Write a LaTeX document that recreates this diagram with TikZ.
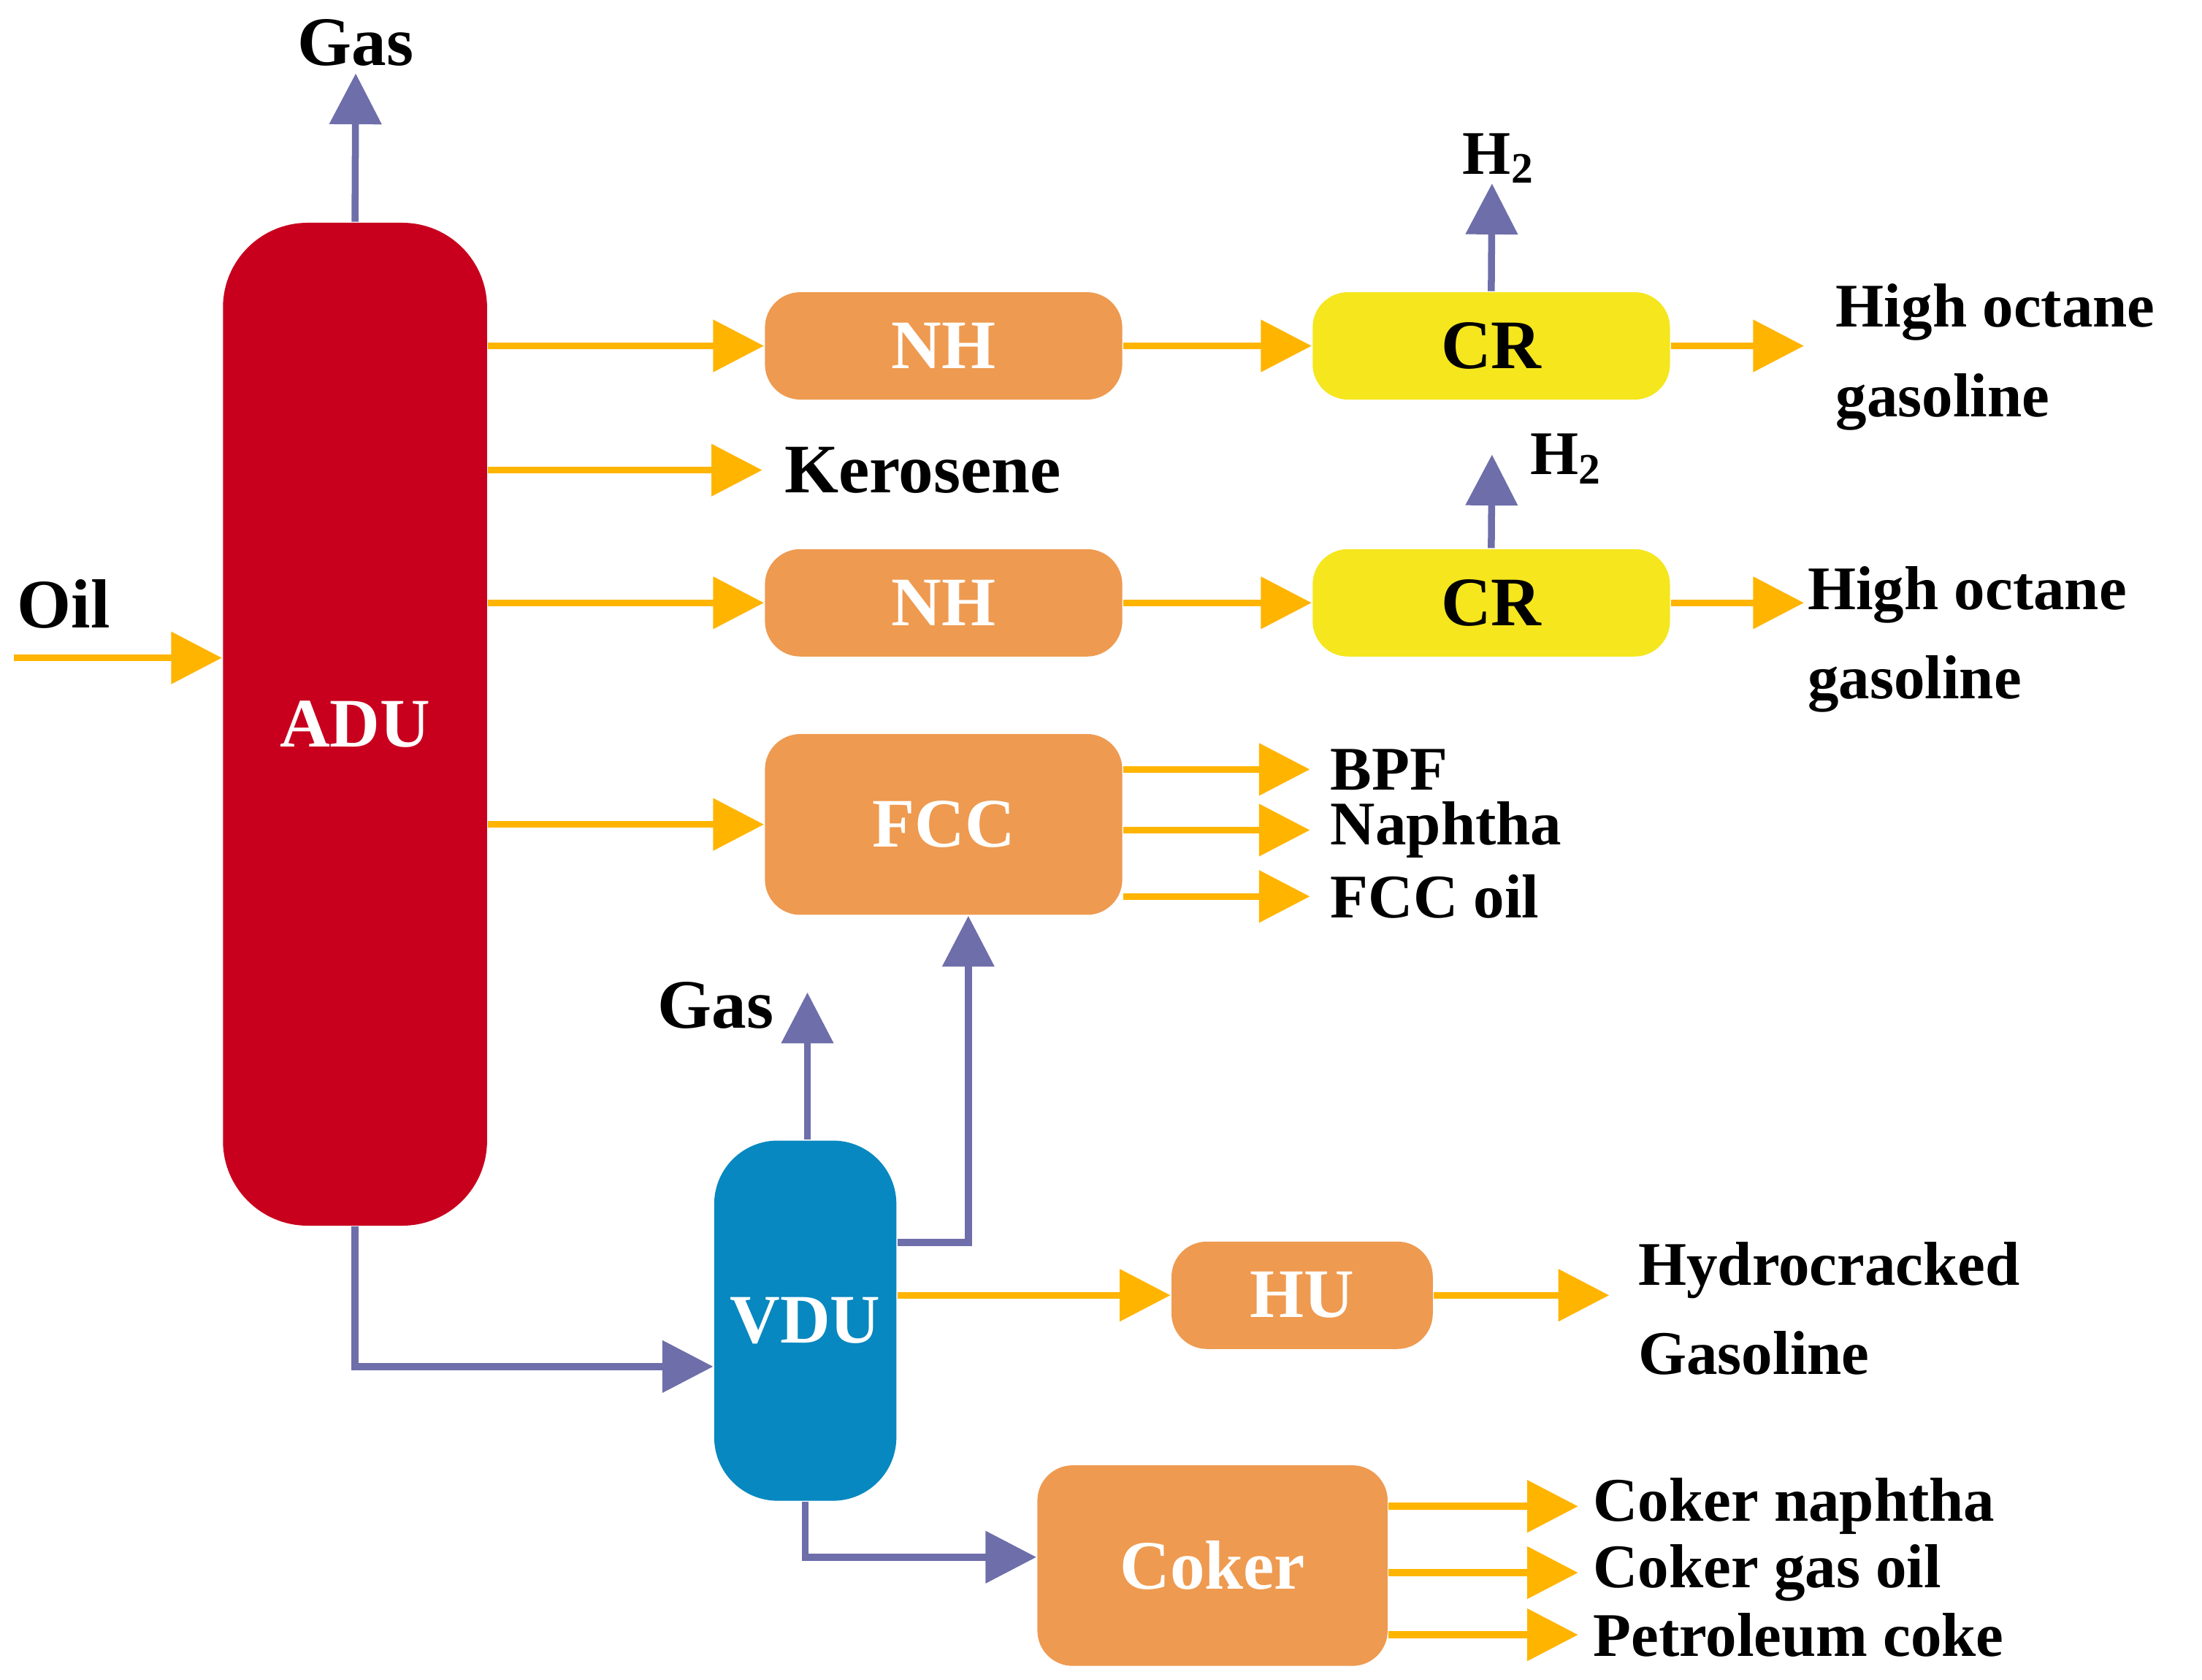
\documentclass[tikz,border=0pt]{standalone}
\usepackage{fontspec}
\setmainfont{Liberation Serif}
\usetikzlibrary{arrows.meta}
\definecolor{adu}{HTML}{C8001E}
\definecolor{unit}{HTML}{EE9A50}
\definecolor{cr}{HTML}{F5E61E}
\definecolor{vdu}{HTML}{0788C0}
\definecolor{og}{HTML}{FFB400}
\definecolor{pu}{HTML}{6E6EAA}
\begin{document}
\begin{tikzpicture}[x=0.01cm,y=-0.01cm,
 box/.style={draw=none,rounded corners=0.25cm,font=\bfseries\fontsize{14}{16}\selectfont,text=white,inner sep=0pt},
 lab/.style={font=\bfseries\fontsize{12.5}{14}\selectfont,inner sep=0pt,align=left},
 oa/.style={draw=og,line width=1.4pt,-{Triangle[length=0.36cm,width=0.36cm]}},
 pa/.style={draw=pu,line width=1.4pt,-{Triangle[length=0.36cm,width=0.36cm]}}]
\useasboundingbox (0,0) rectangle (1560,1190);
% units
\node[box,fill=adu,minimum width=1.87cm,minimum height=7.1cm,rounded corners=0.6cm] (adu) at (251.5,513) {ADU};
\node[box,fill=unit,minimum width=2.53cm,minimum height=0.76cm] (nh1) at (668.5,245) {NH};
\node[box,fill=cr,text=black,minimum width=2.53cm,minimum height=0.76cm] (cr1) at (1056.5,245) {CR};
\node[box,fill=unit,minimum width=2.53cm,minimum height=0.76cm] (nh2) at (668.5,427) {NH};
\node[box,fill=cr,text=black,minimum width=2.53cm,minimum height=0.76cm] (cr2) at (1056.5,427) {CR};
\node[box,fill=unit,minimum width=2.53cm,minimum height=1.28cm] (fcc) at (668.5,584) {FCC};
\node[box,fill=vdu,minimum width=1.29cm,minimum height=2.55cm,rounded corners=0.45cm] (vdu) at (570.5,935.5) {VDU};
\node[box,fill=unit,minimum width=1.85cm,minimum height=0.76cm] (hu) at (922.5,917.5) {HU};
\node[box,fill=unit,minimum width=2.48cm,minimum height=1.42cm] (coker) at (859,1109) {Coker};
% labels
\node[lab,font=\bfseries\fontsize{14}{16}\selectfont] (gas1) at (252,30) {Gas};
\node[lab,font=\bfseries\fontsize{14}{16}\selectfont] (oil) at (45,428) {Oil};
\node[lab] (h21) at (1062,112) {H\textsubscript{2}};
\node[lab] (h22) at (1110,325) {H\textsubscript{2}};
\node[lab,anchor=west,font=\bfseries\fontsize{14}{16}\selectfont] (ker) at (555,333) {Kerosene};
\node[lab,anchor=west,font=\bfseries\fontsize{12.5}{18}\selectfont] (hog1) at (1300,253) {High octane\\gasoline};
\node[lab,anchor=west,font=\bfseries\fontsize{12.5}{18}\selectfont] (hog2) at (1280,453) {High octane\\gasoline};
\node[lab,anchor=west] (bpf) at (942,545) {BPF};
\node[lab,anchor=west] (nap) at (942,588) {Naphtha};
\node[lab,anchor=west] (fccoil) at (942,635) {FCC oil};
\node[lab,font=\bfseries\fontsize{14}{16}\selectfont] (gas2) at (507,712) {Gas};
\node[lab,anchor=west,font=\bfseries\fontsize{12.5}{18}\selectfont] (hyd) at (1160,927) {Hydrocracked\\Gasoline};
\node[lab,anchor=west] (cn) at (1128,1067) {Coker naphtha};
\node[lab,anchor=west] (cg) at (1128,1114) {Coker gas oil};
\node[lab,anchor=west] (pc) at (1128,1158) {Petroleum coke};
% free ends
\coordinate (gasE) at (252,52);
\coordinate (oilS) at (10,466);
\coordinate (h2e1) at (1057,130);
\coordinate (h2e2) at (1057,322);
\coordinate (o1) at (1278,245);
\coordinate (o2) at (1278,427);
\coordinate (kerE) at (540,333);
\coordinate (g2e) at (572,703);
\coordinate (huE) at (1140,917.5);
% arrows
\draw[pa] (adu.north) -- (gasE);
\draw[oa] (oilS) -- (adu.west |- oilS);
\draw[oa] (adu.east |- nh1) -- (nh1.west);
\draw[oa] (nh1) -- (cr1);
\draw[pa] (cr1.north) -- (h2e1);
\draw[oa] (cr1.east) -- (o1);
\draw[oa] (adu.east |- kerE) -- (kerE);
\draw[oa] (adu.east |- nh2) -- (nh2.west);
\draw[oa] (nh2) -- (cr2);
\draw[pa] (cr2.north) -- (h2e2);
\draw[oa] (cr2.east) -- (o2);
\draw[oa] (adu.east |- fcc) -- (fcc.west);
\draw[oa] (fcc.east |- bpf) -- ([xshift=-0.14cm]bpf.west);
\draw[oa] (fcc.east |- nap) -- ([xshift=-0.14cm]nap.west);
\draw[oa] (fcc.east |- fccoil) -- ([xshift=-0.14cm]fccoil.west);
\draw[pa] (vdu.north -| g2e) -- (g2e);
\draw[pa] (adu.south) |- (vdu.west |- 0,968);
\draw[pa] (vdu.east |- 0,880) -| (686,0 |- fcc.south);
\draw[oa] (vdu.east |- hu) -- (hu.west);
\draw[oa] (hu.east) -- (huE);
\draw[pa] (vdu.south) |- (coker.west |- 0,1103);
\draw[oa] (coker.east |- cn) -- ([xshift=-0.1cm]cn.west);
\draw[oa] (coker.east |- cg) -- ([xshift=-0.1cm]cg.west);
\draw[oa] (coker.east |- pc) -- ([xshift=-0.1cm]pc.west);
\end{tikzpicture}
\end{document}
